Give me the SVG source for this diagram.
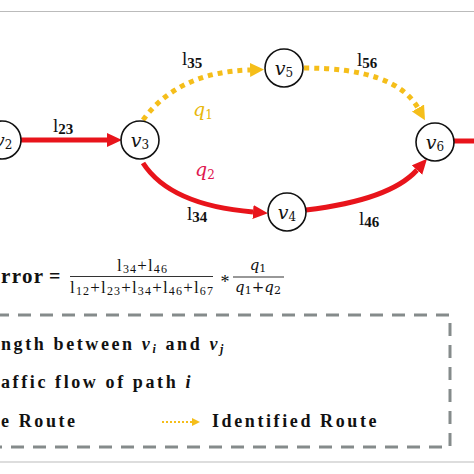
<svg xmlns="http://www.w3.org/2000/svg" width="474" height="474" viewBox="0 0 474 474">
<defs>
<style>
.n circle{fill:#fff;stroke:#111;stroke-width:1.6}
.m{font-family:"Liberation Serif","DejaVu Serif",serif;fill:#111}
.vi{font-family:"DejaVu Serif",serif;font-style:italic;font-size:19px;fill:#111}
.sb{font-size:12px;font-style:normal}
.l{font-size:19px}
.ls{font-size:15px;font-weight:bold}
.red{fill:none;stroke:#E8141B;stroke-width:5}
.yel{fill:none;stroke:#F5BE1A;stroke-width:5;stroke-dasharray:5 5}
.leg{font-family:"Liberation Serif","Times New Roman",serif;font-weight:bold;font-size:18px;letter-spacing:2.6px;fill:#111}
.frac{stroke:#333;stroke-width:1.2}
</style>
<marker id="ar" markerUnits="userSpaceOnUse" markerWidth="16" markerHeight="16" refX="0" refY="7" orient="auto"><path d="M0,0 L15,7 L0,14 z" fill="#E8141B"/></marker>
<marker id="ay" markerUnits="userSpaceOnUse" markerWidth="16" markerHeight="16" refX="0" refY="7" orient="auto"><path d="M0,0 L14,7 L0,14 z" fill="#F5BE1A"/></marker>
<marker id="ays" markerUnits="userSpaceOnUse" markerWidth="10" markerHeight="10" refX="0" refY="4" orient="auto"><path d="M0,0 L8,4 L0,8 z" fill="#F5BE1A"/></marker>
</defs>
<rect width="474" height="474" fill="#fff"/>
<line x1="0" y1="11.5" x2="474" y2="11.5" stroke="#bbb" stroke-width="1"/>
<line x1="0" y1="462" x2="474" y2="462" stroke="#bbb" stroke-width="1"/>

<g id="connectors">
<line class="red" x1="20" y1="140" x2="107" y2="140" marker-end="url(#ar)"/>
<line class="red" x1="453" y1="141" x2="474" y2="141"/>
<path class="yel" d="M143,120 Q178,72 250,70" marker-end="url(#ay)"/>
<path class="yel" d="M304,68 Q395,68 418,108" marker-end="url(#ay)"/>
<path class="red" d="M143,163 Q170,205 253,212" marker-end="url(#ar)"/>
<path class="red" d="M306,210 Q390,200 417,170" marker-end="url(#ar)"/>
</g>

<g id="v2" class="n"><circle cx="2" cy="140" r="19"/><text class="vi" x="-6" y="147">v<tspan class="sb" dy="2">2</tspan></text></g>
<g id="v3" class="n"><circle cx="140" cy="140" r="19"/><text class="vi" x="140" y="147" text-anchor="middle">v<tspan class="sb" dy="2">3</tspan></text></g>
<g id="v5" class="n"><circle cx="284" cy="68" r="19"/><text class="vi" x="284" y="75" text-anchor="middle">v<tspan class="sb" dy="2">5</tspan></text></g>
<g id="v4" class="n"><circle cx="287" cy="212" r="19"/><text class="vi" x="287" y="219" text-anchor="middle">v<tspan class="sb" dy="2">4</tspan></text></g>
<g id="v6" class="n"><circle cx="435" cy="142" r="19"/><text class="vi" x="435" y="149" text-anchor="middle">v<tspan class="sb" dy="2">6</tspan></text></g>

<g id="labels">
<text class="m l" x="53" y="132">l<tspan class="ls" dy="2">23</tspan></text>
<text class="m l" x="182" y="65">l<tspan class="ls" dy="3">35</tspan></text>
<text class="m l" x="357" y="66">l<tspan class="ls" dy="2">56</tspan></text>
<text class="m l" x="187" y="220">l<tspan class="ls" dy="2">34</tspan></text>
<text class="m l" x="359" y="225">l<tspan class="ls" dy="2">46</tspan></text>
<text class="vi" x="193" y="116" style="fill:#E8B70C">q<tspan class="sb" dy="3">1</tspan></text>
<text class="vi" x="195" y="176" style="fill:#E0184F">q<tspan class="sb" dy="3">2</tspan></text>
</g>

<g id="formula">
<text class="m" x="1" y="283" font-size="21" font-weight="bold" textLength="42" lengthAdjust="spacing">rror</text>
<text class="m" x="49" y="283" font-size="20" font-weight="bold">=</text>
<text class="m" x="117" y="271" font-size="17" textLength="50" lengthAdjust="spacing">l<tspan font-size="12" dy="2">34</tspan><tspan dy="-2">+l</tspan><tspan font-size="12" dy="2">46</tspan></text>
<line class="frac" x1="70" y1="276.5" x2="213" y2="276.5"/>
<text class="m" x="70" y="293" font-size="17" textLength="143" lengthAdjust="spacing">l<tspan font-size="12" dy="2">12</tspan><tspan dy="-2">+l</tspan><tspan font-size="12" dy="2">23</tspan><tspan dy="-2">+l</tspan><tspan font-size="12" dy="2">34</tspan><tspan dy="-2">+l</tspan><tspan font-size="12" dy="2">46</tspan><tspan dy="-2">+l</tspan><tspan font-size="12" dy="2">67</tspan></text>
<text class="m" x="225" y="288" font-size="18" text-anchor="middle">*</text>
<text class="vi" x="258" y="270" font-size="15" text-anchor="middle" style="font-size:15px">q<tspan font-size="11" font-style="normal" dy="2">1</tspan></text>
<line class="frac" x1="233" y1="277" x2="284" y2="277"/>
<text class="vi" x="258" y="292" text-anchor="middle" style="font-size:15px">q<tspan font-size="11" font-style="normal" dy="2">1</tspan><tspan font-style="normal" dy="-2">+</tspan>q<tspan font-size="11" font-style="normal" dy="2">2</tspan></text>
</g>

<g id="legend">
<path d="M-4,315 H450 V447 H-4" fill="none" stroke="#858b8b" stroke-width="3" stroke-dasharray="13 9"/>
<text class="leg" x="1" y="350">ngth between <tspan font-style="italic">v</tspan><tspan font-style="italic" font-size="12" dy="3">i</tspan><tspan dy="-3"> and </tspan><tspan font-style="italic">v</tspan><tspan font-style="italic" font-size="12" dy="3">j</tspan></text>
<text class="leg" x="1" y="388">affic flow of path <tspan font-style="italic">i</tspan></text>
<text class="leg" x="1" y="427">e Route</text>
<line x1="162" y1="422" x2="192" y2="422" stroke="#F5BE1A" stroke-width="2.2" stroke-dasharray="2 2" marker-end="url(#ays)"/>
<text class="leg" x="212" y="427">Identified Route</text>
</g>
</svg>
